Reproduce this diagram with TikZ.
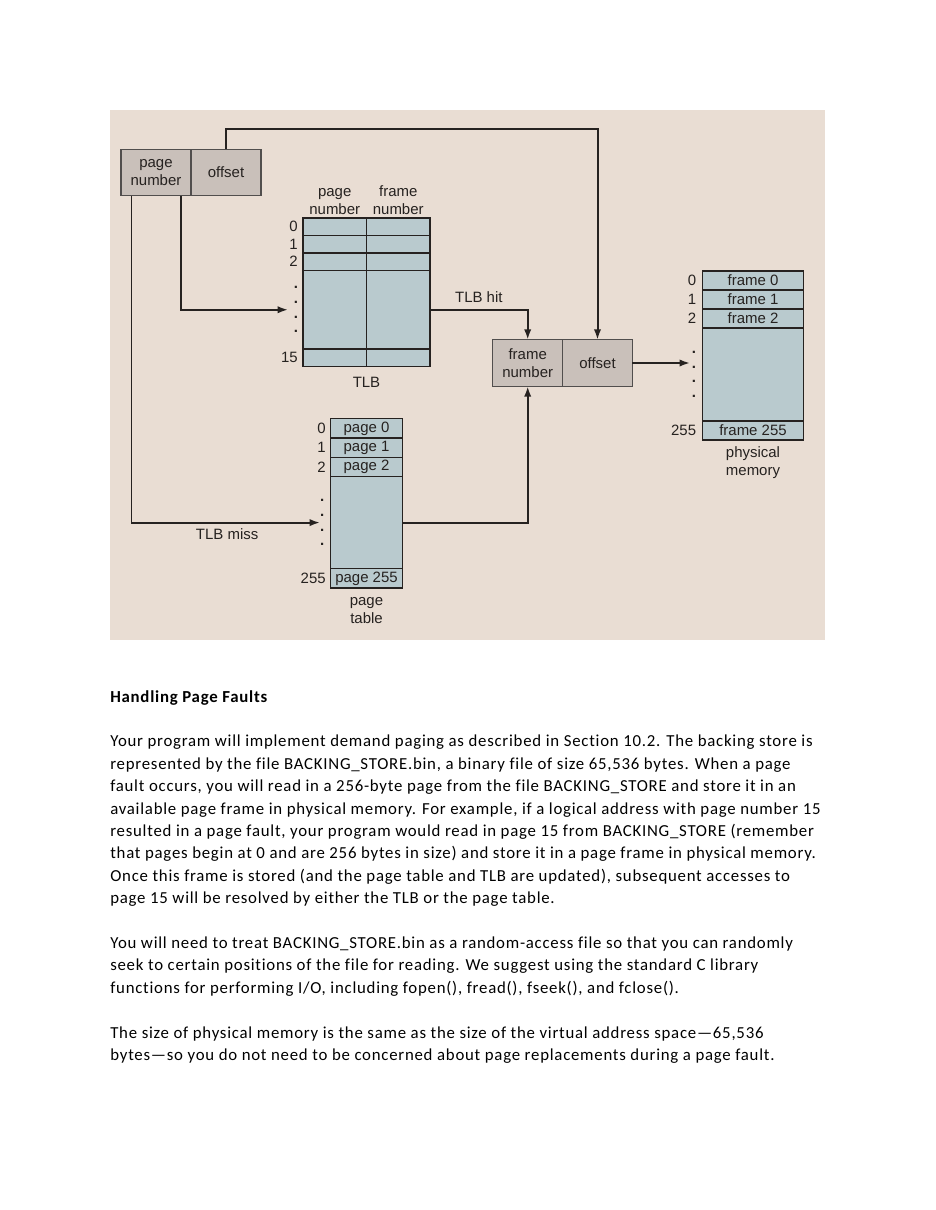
\documentclass[tikz,border=0pt]{standalone}
\usepackage{fontspec}
\setmainfont{Carlito}[LetterSpace=4.5, Ligatures=CommonOff]
\setsansfont{Liberation Sans}
\usetikzlibrary{positioning,arrows.meta,calc}

\definecolor{panelbg}{RGB}{233,221,211}
\definecolor{addrgray}{RGB}{201,192,186}
\definecolor{cellblue}{RGB}{185,202,206}
\definecolor{inkline}{RGB}{38,34,32}
\newcommand{\pxu}{0.6545pt}

\begin{document}
\begin{tikzpicture}[
    x=0.6545pt, y=-0.6545pt,
    panel/.style={fill=panelbg, draw=none, minimum width=715*\pxu, minimum height=530*\pxu, inner sep=0pt},
    addrbox/.style={draw=inkline!80, line width=0.9pt, fill=addrgray, minimum width=#1*\pxu, minimum height=46.5*\pxu, inner sep=0pt, outer sep=0pt, font=\fontsize{9.8}{11.8}\selectfont\sffamily, text=inkline, align=center},
    addrbox/.default={70},
    cell/.style={draw=inkline, line width=0.8pt, fill=cellblue, minimum width=#1*\pxu, inner sep=0pt, outer sep=0pt, font=\fontsize{9.8}{11.8}\selectfont\sffamily, text=inkline},
    tall/.style={minimum height=#1*\pxu},
    idx/.style={font=\fontsize{9.8}{11.8}\selectfont\sffamily, text=inkline, inner sep=1pt},
    vdots/.style={font=\fontsize{9.8}{9.6}\selectfont\sffamily\bfseries, text=inkline, inner sep=0pt, align=center},
    lbl/.style={font=\fontsize{9.8}{11.8}\selectfont\sffamily, text=inkline, inner sep=1pt, align=center},
    arr/.style={-{Latex[length=6.8pt,width=4.8pt]}, line width=1.3pt, draw=inkline},
    bodytext/.style={font=\fontsize{11}{14.66}\selectfont, align=left, inner sep=0pt, anchor=base west},
]
\useasboundingbox (0,0) rectangle (935,1210);
\fill[white] (0,0) rectangle (935,1210);

\node[panel] (panel) at (467.5,375) {};

% ===== LOGICAL ADDRESS =====
\node[addrbox] (pnum) at (156,172.5) {page\\number};
\node[addrbox] (off) at (226,172.5) {offset};

% ===== TLB =====
\node[cell=63.5, tall=17.5] (tlbp0) at (334.75,226.75) {};
\node[cell=63.5, tall=17.5] (tlbf0) at (398.25,226.75) {};
\node[cell=63.5, tall=17.5] (tlbp1) at (334.75,244.25) {};
\node[cell=63.5, tall=17.5] (tlbf1) at (398.25,244.25) {};
\node[cell=63.5, tall=17.5] (tlbp2) at (334.75,261.75) {};
\node[cell=63.5, tall=17.5] (tlbf2) at (398.25,261.75) {};
\node[cell=63.5, tall=78.5] (tlbpm) at (334.75,309.75) {};
\node[cell=63.5, tall=78.5] (tlbfm) at (398.25,309.75) {};
\node[cell=63.5, tall=17.5] (tlbp15) at (334.75,357.75) {};
\node[cell=63.5, tall=17.5] (tlbf15) at (398.25,357.75) {};
\node[idx, left=2.3pt of tlbp0] (tlbi0) {0};
\node[idx, left=2.3pt of tlbp1] (tlbi1) {1};
\node[idx, left=2.3pt of tlbp2] (tlbi2) {2};
\node[vdots, left=3pt of tlbpm] (tlbdots) {.\\.\\.\\.};
\node[idx, left=2.3pt of tlbp15] (tlbi15) {15};
\node[lbl, above=0.8pt of tlbp0] (tlbhp) {page\\number};
\node[lbl, above=0.8pt of tlbf0] (tlbhf) {frame\\number};
\node[lbl, below=5.6pt of tlbp15.south east] (tlbname) {TLB};

% ===== PAGE TABLE =====
\node[cell=71.6, tall=19.25] (ptp0) at (366.5,428.35) {page 0};
\node[cell=71.6, tall=19.25] (ptp1) at (366.5,447.6) {page 1};
\node[cell=71.6, tall=19.25] (ptp2) at (366.5,466.85) {page 2};
\node[cell=71.6, tall=92.2] (ptpm) at (366.5,522.6) {};
\node[cell=71.6, tall=19.25] (ptp255) at (366.5,578.35) {page 255};
\node[idx, left=2.1pt of ptp0] (pti0) {0};
\node[idx, left=2.1pt of ptp1] (pti1) {1};
\node[idx, left=2.1pt of ptp2] (pti2) {2};
\node[vdots, left=4pt of ptpm] (ptdots) {.\\.\\.\\.};
\node[idx, left=2.1pt of ptp255] (pti255) {255};
\node[lbl, below=4.9pt of ptp255] (ptname) {page\\table};

% ===== PHYSICAL ADDRESS =====
\node[addrbox] (fnum) at (527.7,363) {frame\\number};
\node[addrbox=69.6] (foff) at (597.5,363) {offset};

% ===== PHYSICAL MEMORY =====
\node[cell=101, tall=19] (mem0) at (753,280.5) {frame 0};
\node[cell=101, tall=19] (mem1) at (753,299.5) {frame 1};
\node[cell=101, tall=19] (mem2) at (753,318.5) {frame 2};
\node[cell=101, tall=93] (memm) at (753,374.5) {};
\node[cell=101, tall=19] (mem255) at (753,430.5) {frame 255};
\node[idx, left=3pt of mem0] (memi0) {0};
\node[idx, left=3pt of mem1] (memi1) {1};
\node[idx, left=3pt of mem2] (memi2) {2};
\node[vdots, left=4pt of memm] (memdots) {.\\.\\.\\.};
\node[idx, left=3pt of mem255] (memi255) {255};
\node[lbl, below=3pt of mem255] (memname) {physical\\memory};

% ===== ARROWS =====
\draw[arr] (off.north) -- ++(0,-20) -| (foff.north);
\draw[arr, shorten >=9.8pt] ($(pnum.south east)+(-10,0)$) |- (tlbpm.west);
\draw[arr, shorten >=7pt] ($(pnum.south west)+(10.5,0)$) |- (ptpm.west) node[lbl, pos=0.74, below=2.2pt] {TLB miss};
\draw[arr] (tlbfm.east) -| (fnum.north) node[lbl, pos=0.25, above=3pt] {TLB hit};
\draw[arr] (ptpm.east) -| (fnum.south);
\draw[arr, shorten >=8.2pt] (foff.east) -- (foff.east -| memm.west);

% ===== TEXT =====
\node[bodytext, font=\fontsize{11}{14.66}\selectfont\bfseries] (title) at (110,702) {Handling Page Faults};
\node[bodytext] (para1) at (110,903.6) {Your program will implement demand paging as described in Section 10.2. The backing store is\\
represented by the file BACKING\_STORE.bin, a binary file of size 65,536 bytes. When a page\\
fault occurs, you will read in a 256-byte page from the file BACKING\_STORE and store it in an\\
available page frame in physical memory. For example, if a logical address with page number 15\\
resulted in a page fault, your program would read in page 15 from BACKING\_STORE (remember\\
that pages begin at 0 and are 256 bytes in size) and store it in a page frame in physical memory.\\
Once this frame is stored (and the page table and TLB are updated), subsequent accesses to\\
page 15 will be resolved by either the TLB or the page table.};
\node[bodytext] (para2) at (110,993.2) {You will need to treat BACKING\_STORE.bin as a random-access file so that you can randomly\\
seek to certain positions of the file for reading. We suggest using the standard C library\\
functions for performing I/O, including fopen(), fread(), fseek(), and fclose().};
\node[bodytext] (para3) at (110,1060.4) {The size of physical memory is the same as the size of the virtual address space—65,536\\
bytes—so you do not need to be concerned about page replacements during a page fault.};

\end{tikzpicture}
\end{document}
